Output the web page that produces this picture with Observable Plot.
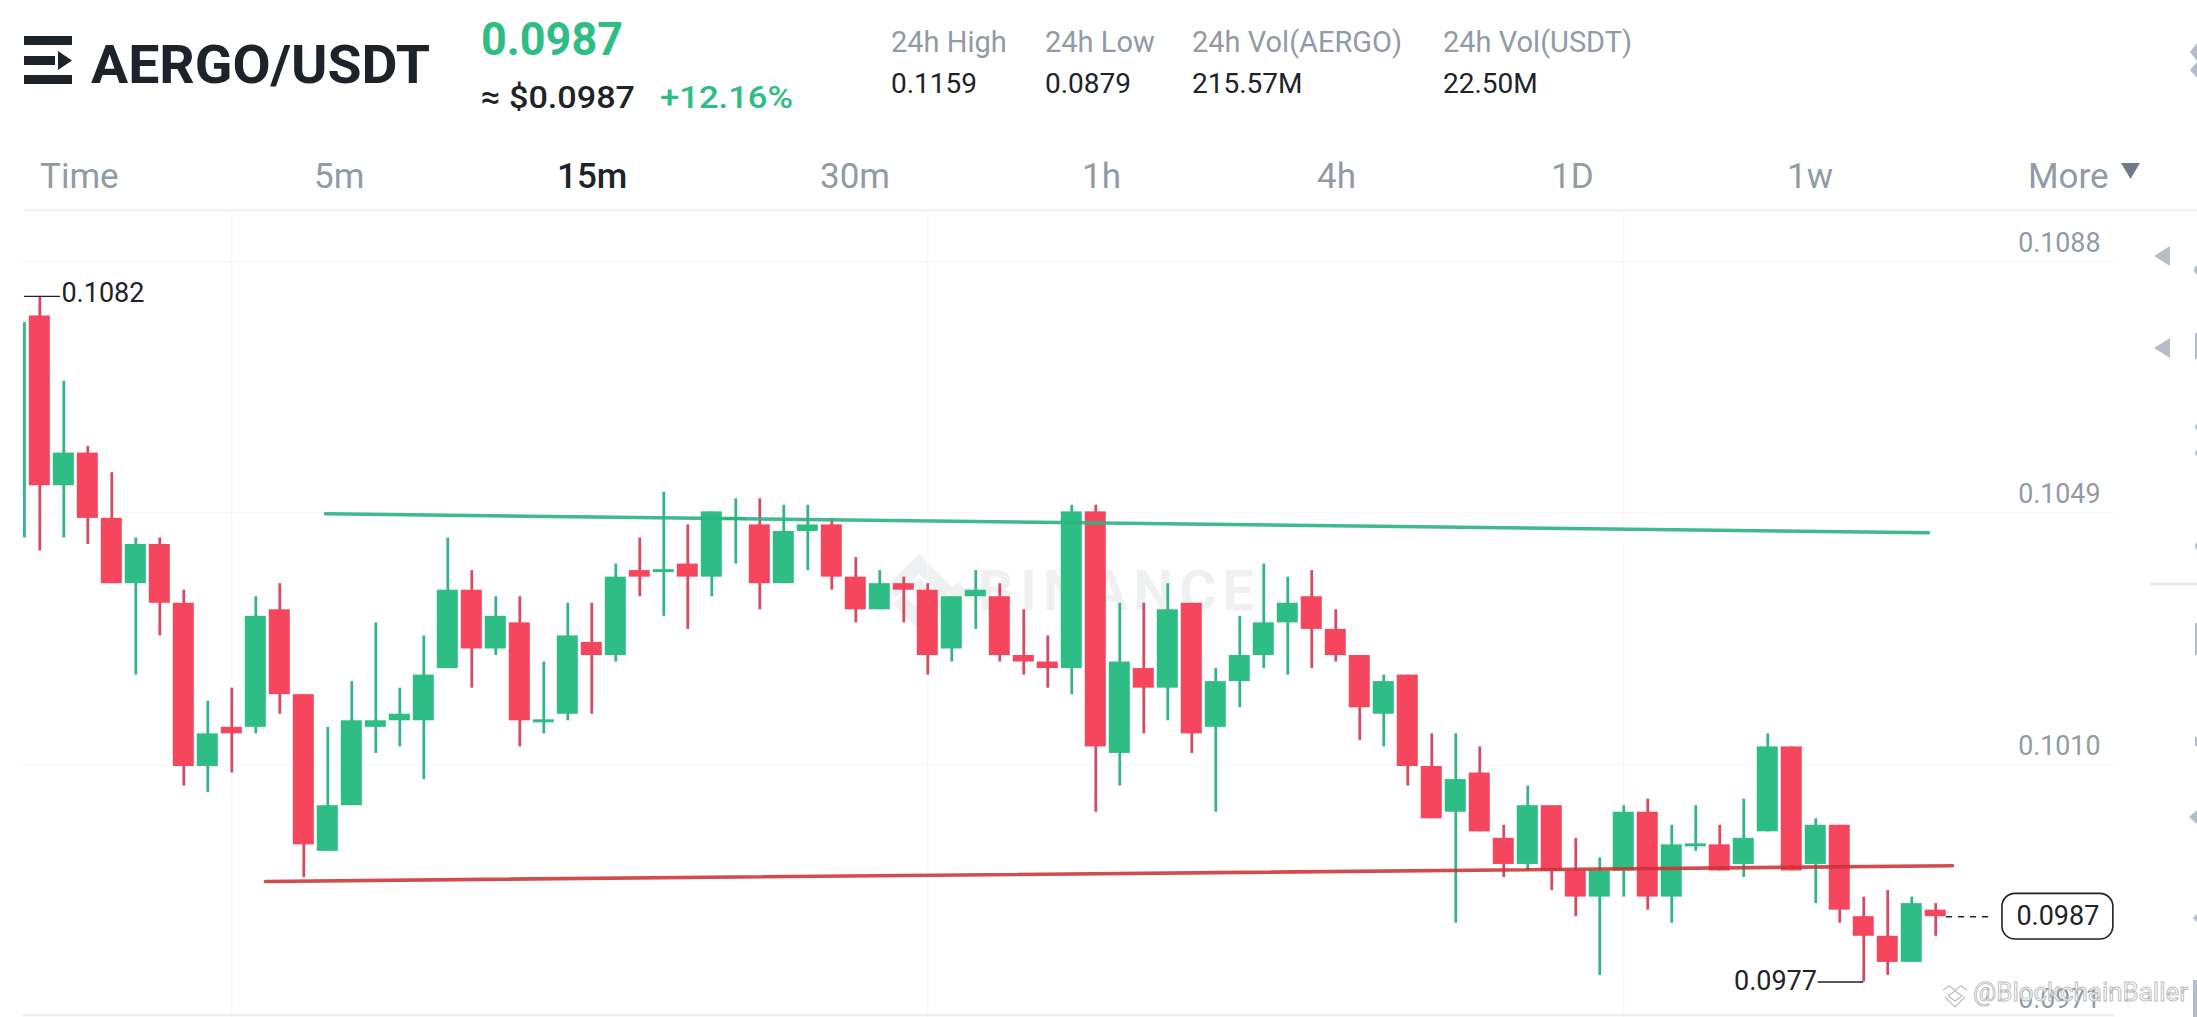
<!DOCTYPE html>
<html>
<head>
<meta charset="utf-8">
<script src="https://cdn.jsdelivr.net/npm/d3@7"></script>
<script src="https://cdn.jsdelivr.net/npm/@observablehq/plot@0.6"></script>
<style>
  html,body{margin:0;padding:0;background:#fff;overflow:hidden;width:2197px;height:1017px}
  body{position:relative;font-family:Roboto,"Noto Sans",sans-serif}
  svg{display:block}
  #under,#over{position:absolute;left:0;top:0;pointer-events:none}
  #under{z-index:0}
  #header{position:absolute;left:0;top:0;z-index:1}
  #chart{position:absolute;left:0;top:211px;z-index:1}
  #over{z-index:2}
  .g{fill:#929aa5}.d{fill:#1e2329}.u{fill:#2ebd85}
</style>
</head>
<body>
<svg id="under" width="2197" height="1017">
  <g fill="#eff0f1">
    <polygon points="885,588 919,554 953,588 943,598 919,574 895,598"/>
    <polygon points="893,604 919,630 945,604 935,594 919,610 903,594"/>
    <polygon points="919,578 929,588 919,598 909,588"/>
    <polygon points="880,582 890,592 880,602 870,592"/>
    <polygon points="958,582 968,592 958,602 948,592"/>
    <text x="978" y="610" font-family="Roboto" font-weight="700" font-size="56" textLength="276" lengthAdjust="spacing">BINANCE</text>
  </g>
</svg>
<svg id="header" width="2197" height="211">
  <g class="d">
    <rect x="24" y="36" width="48" height="9"/>
    <rect x="24" y="56" width="31" height="9"/>
    <polygon points="58,51 72,60.5 58,70"/>
    <rect x="24" y="75" width="48" height="9"/>
  </g>
  <text class="d" x="91" y="83" font-size="53" font-weight="700" textLength="339" lengthAdjust="spacingAndGlyphs">AERGO/USDT</text>
  <text class="u" x="481" y="55" font-size="46" font-weight="700" textLength="142" lengthAdjust="spacingAndGlyphs">0.0987</text>
  <text class="d" x="481" y="108" font-size="32" font-weight="500" textLength="154" lengthAdjust="spacingAndGlyphs">≈ $0.0987</text>
  <text class="u" x="660" y="108" font-size="32" font-weight="500" textLength="133" lengthAdjust="spacingAndGlyphs">+12.16%</text>
  <g font-size="29">
    <text class="g" x="891" y="52">24h High</text>
    <text class="g" x="1045" y="52">24h Low</text>
    <text class="g" x="1192" y="52">24h Vol(AERGO)</text>
    <text class="g" x="1443" y="52">24h Vol(USDT)</text>
  </g>
  <g font-size="28">
    <text class="d" x="891" y="93">0.1159</text>
    <text class="d" x="1045" y="93">0.0879</text>
    <text class="d" x="1192" y="93">215.57M</text>
    <text class="d" x="1443" y="93">22.50M</text>
  </g>
  <g font-size="35" class="g">
    <text x="40" y="188">Time</text>
    <text x="314" y="188">5m</text>
    <text class="d" x="557" y="188" font-weight="500">15m</text>
    <text x="820" y="188">30m</text>
    <text x="1082" y="188">1h</text>
    <text x="1317" y="188">4h</text>
    <text x="1551" y="188">1D</text>
    <text x="1787" y="188">1w</text>
    <text x="2028" y="188">More</text>
  </g>
  <polygon points="2121,163 2140,163 2130.5,179" fill="#707a8a"/>
  <rect x="24" y="209.5" width="2173" height="2" fill="#eaecef"/>
  <polygon points="2197,43 2190,52 2197,61" fill="#b7bdc6"/>
  <polygon points="2197,62 2190,70 2197,78" fill="#b7bdc6"/>
</svg>
<div id="chart"></div>
<svg id="over" width="2197" height="1017">
  <g fill="#b7bdc6">
    <polygon points="2154,256 2170,246 2170,266"/>
    <polygon points="2154,348 2170,338 2170,358"/>
    <rect x="2150" y="582.5" width="47" height="3" fill="#e6e8ea"/>
    <polygon points="2189,817 2197,810 2197,824"/>
    <polygon points="2193,918 2197,914 2197,922"/>
    <circle cx="2199" cy="270" r="5"/>
    <rect x="2195" y="333" width="2" height="26"/>
    <circle cx="2198" cy="427" r="3"/>
    <circle cx="2198" cy="453" r="3"/>
    <circle cx="2200" cy="546" r="5"/>
    <rect x="2195" y="623" width="2" height="32"/>
    <rect x="2195" y="737" width="2" height="9"/>
    <rect x="2193" y="980" width="4" height="37"/>
  </g>
  <g fill="#fff" stroke="#b9bcc0" stroke-width="1.1">
    <polyline points="1943,990 1949,986 1955,990 1961,986 1967,990" fill="none"/>
    <polyline points="1948,996 1955,991 1962,996 1955,1001 1948,996" fill="none"/>
    <polyline points="1945,997 1955,1007 1965,997" fill="none"/>
    <text x="1973" y="1001" font-family="Roboto" font-size="25" stroke-width="0.9" fill="#fff" fill-opacity="0.85" textLength="215" lengthAdjust="spacingAndGlyphs">@BlockchainBaller</text>
  </g>
</svg>
<script>
const opens  = [.1045,.1079,.1053,.1058,.1048,.1038,.1044,.1035,.1010,.1016,.1016,.1034,.1021,.0997,.1004,.1016,.1017,.1017,.1025,.1037,.1028,.1032,.1017,.1018,.1029,.1027,.1040,.1040,.1041,.1039,.1048,.1047,.1038,.1046,.1047,.1039,.1034,.1038,.1037,.1028,.1036,.1036,.1027,.1026,.1025,.1049,.1012,.1025,.1022,.1035,.1016,.1023,.1027,.1032,.1036,.1031,.1027,.1018,.1024,.1010,.1003,.1009,.0999,.0995,.1004,.0994,.0990,.0994,.1003,.0990,.0998,.0998,.0995,.1000,.1013,.0995,.1001,.0987,.0984,.0980,.0988];
const highs  = [.1078,.1082,.1069,.1059,.1055,.1045,.1045,.1037,.1020,.1022,.1036,.1038,.1021,.1016,.1023,.1032,.1022,.1030,.1045,.1040,.1036,.1036,.1026,.1035,.1035,.1041,.1045,.1052,.1047,.1049,.1051,.1051,.1050,.1050,.1048,.1042,.1040,.1039,.1038,.1036,.1040,.1038,.1034,.1030,.1050,.1050,.1035,.1035,.1038,.1035,.1025,.1033,.1041,.1039,.1040,.1034,.1027,.1024,.1024,.1015,.1015,.1013,.1001,.1007,.1004,.0999,.0996,.1004,.1005,.1001,.1004,.1001,.1005,.1015,.1013,.1002,.1001,.0990,.0991,.0990,.0989];
const lows   = [.1045,.1043,.1045,.1044,.1038,.1024,.1030,.1007,.1006,.1009,.1015,.1018,.0993,.0997,.1004,.1012,.1013,.1008,.1025,.1022,.1027,.1013,.1015,.1017,.1018,.1026,.1036,.1033,.1031,.1036,.1041,.1034,.1038,.1040,.1037,.1032,.1034,.1032,.1024,.1026,.1031,.1026,.1024,.1022,.1021,.1003,.1007,.1015,.1017,.1012,.1003,.1019,.1025,.1024,.1025,.1026,.1014,.1013,.1007,.1002,.0986,.1000,.0993,.0994,.0991,.0987,.0978,.0990,.0988,.0986,.0997,.0994,.0993,.1000,.0994,.0989,.0986,.0977,.0978,.0980,.0984];
const closes = [.1078,.1053,.1058,.1048,.1038,.1044,.1035,.1010,.1015,.1015,.1033,.1021,.0998,.1004,.1017,.1017,.1018,.1024,.1037,.1028,.1033,.1017,.1017,.1030,.1027,.1039,.1039,.1040,.1039,.1049,.1048,.1038,.1046,.1047,.1039,.1034,.1038,.1037,.1027,.1036,.1037,.1027,.1026,.1025,.1049,.1013,.1026,.1022,.1034,.1015,.1023,.1027,.1032,.1035,.1031,.1027,.1019,.1023,.1010,.1002,.1008,.1000,.0995,.1004,.0994,.0990,.0994,.1003,.0990,.0998,.0998,.0994,.0999,.1013,.0994,.1001,.0988,.0984,.0980,.0989,.0987];

const gridPrices = [0.10873, 0.10489, 0.10103, 0.09715];
const gridLabels = ["0.1088", "0.1049", "0.1010", "0.0971"];
const timeGrid = [9, 38, 67];

const resistance = [{i: 12.9, p: .10487}, {i: 79.7, p: .10458}];
const support    = [{i: 10.4, p: .09924}, {i: 80.7, p: .09948}];
const highMark = {price: .1082, label: "0.1082"};
const lowMark  = {price: .0977, label: "0.0977"};
const lastMark = {price: .0987, label: "0.0987"};

const UP = "#2ebd85", DOWN = "#f6465d", UPW = "#34b586", DOWNW = "#d44c63";
const candles = opens.map((o, k) => ({i: k, o, h: highs[k], l: lows[k], c: closes[k], up: closes[k] >= o}));
const half = 0.4375;
const label = new Map(gridPrices.map((p, k) => [p, gridLabels[k]]));

const chart = Plot.plot({
  width: 2197, height: 806,
  marginLeft: 23, marginRight: 82, marginTop: 0, marginBottom: 0,
  style: {background: "transparent", fontFamily: "Roboto, 'Noto Sans', sans-serif", overflow: "visible"},
  x: {domain: [0.32, 87.49], axis: null},
  y: {domain: [0.097156, 0.1095], axis: null},
  marks: [
    Plot.gridX(timeGrid, {stroke: "#f8f8f9", strokeOpacity: 1, strokeWidth: 1.2}),
    Plot.gridY(gridPrices, {stroke: "#f7f7f8", strokeOpacity: 1, strokeWidth: 1.2}),
    Plot.ruleY([0], {y: () => 0.09719, stroke: "#eaecef", strokeWidth: 2}),
    Plot.axisY({anchor: "right", ticks: gridPrices, tickSize: 0, tickPadding: -15, textAnchor: "end",
      dy: -18, fontSize: 26.8, fill: "#929aa5", tickFormat: d => label.get(d), label: null}),
    Plot.ruleX(candles, {x: "i", y1: "l", y2: "h", stroke: d => d.up ? UPW : DOWNW, strokeWidth: 2.8, clip: true}),
    Plot.rect(candles.filter(d => d.o !== d.c), {
      x1: d => d.i - half, x2: d => d.i + half, y1: "o", y2: "c",
      fill: d => d.up ? UP : DOWN, clip: true}),
    Plot.ruleY(candles.filter(d => d.o === d.c), {
      x1: d => d.i - half, x2: d => d.i + half, y: "o", stroke: UP, strokeWidth: 3}),
    Plot.line(resistance, {x: "i", y: "p", stroke: "#2fb383", strokeWidth: 3.6, strokeOpacity: 0.92}),
    Plot.line(support, {x: "i", y: "p", stroke: "#cc3337", strokeWidth: 3.6, strokeOpacity: 0.88}),
    Plot.ruleY([highMark], {y: "price", x1: () => 0.36, x2: () => 1.86, stroke: "#1e2329", strokeWidth: 1.4}),
    Plot.text([highMark], {x: () => 1.9, y: "price", text: "label", textAnchor: "start", fontSize: 27, dy: -3, fill: "#1e2329"}),
    Plot.ruleY([lowMark], {y: "price", x1: () => 75.1, x2: () => 77, stroke: "#1e2329", strokeWidth: 1.4}),
    Plot.text([lowMark], {x: () => 75.05, y: "price", text: "label", textAnchor: "end", fontSize: 27, dy: -1, fill: "#1e2329"}),
    Plot.ruleY([lastMark], {y: "price", x1: () => 80.45, x2: () => 82.2, stroke: "#1e2329", strokeWidth: 1.4, strokeDasharray: "6,6"}),
    Plot.rect([lastMark], {x1: () => 82.78, x2: () => 87.4, y1: d => d.price - .00035, y2: d => d.price + .00035,
      rx: 13, fill: "#fff", stroke: "#1e2329", strokeWidth: 1.6}),
    Plot.text([lastMark], {x: () => 85.09, y: "price", text: "label", fontSize: 27, fill: "#1e2329"})
  ]
});
document.getElementById("chart").appendChild(chart);
</script>
</body>
</html>
